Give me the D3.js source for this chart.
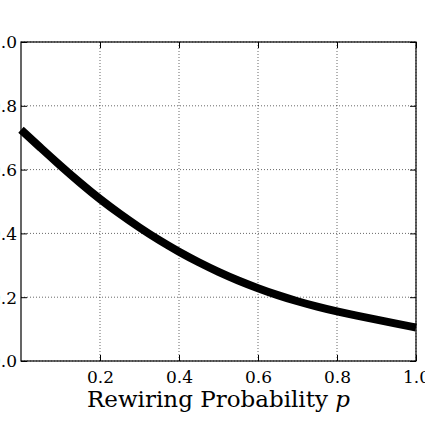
<!DOCTYPE html>
<html><head><meta charset="utf-8">
<script src="https://cdn.jsdelivr.net/npm/d3@7"></script>
<style>body{margin:0;background:#fff}</style></head>
<body><svg id="c" width="425" height="425"></svg>
<script>
const pValues=[0,0.05,0.1,0.15,0.2,0.25,0.3,0.35,0.4,0.45,0.5,0.55,0.6,0.65,0.7,0.75,0.8,0.85,0.9,0.95,1.0];
const yValues=[0.725,0.668,0.612,0.558,0.507,0.461,0.418,0.378,0.342,0.309,0.279,0.252,0.228,0.206,0.187,0.170,0.155,0.142,0.13,0.117,0.105];
const xTicks=[0.2,0.4,0.6,0.8,1.0];
const yTicks=[0.0,0.2,0.4,0.6,0.8,1.0];
const svg=d3.select("#c");
const L=21,R=416,T=42,B=361;
const x=d3.scaleLinear().domain([0,1]).range([L,R]);
const y=d3.scaleLinear().domain([0,1]).range([B,T]);
const g=svg.append("g");
g.selectAll(".gx").data(xTicks).join("line").attr("x1",d=>x(d)).attr("x2",d=>x(d)).attr("y1",T).attr("y2",B).attr("stroke","#000").attr("stroke-width",0.6).attr("stroke-dasharray","1,2");
g.selectAll(".gy").data(yTicks).join("line").attr("y1",d=>y(d)).attr("y2",d=>y(d)).attr("x1",L).attr("x2",R).attr("stroke","#000").attr("stroke-width",0.6).attr("stroke-dasharray","1,2");
const line=d3.line().x((d,i)=>x(pValues[i])).y(d=>y(d)).curve(d3.curveBasis);
svg.append("path").datum(yValues).attr("d",line).attr("fill","none").attr("stroke","#000").attr("stroke-width",8);
svg.append("rect").attr("x",L).attr("y",T).attr("width",R-L).attr("height",B-T).attr("fill","none").attr("stroke","#000").attr("stroke-width",1.2);
const xa=svg.append("g").attr("transform",`translate(0,${B})`).call(d3.axisBottom(x).tickValues(xTicks).tickFormat(d3.format(".1f")).tickSize(-6).tickPadding(10));
const ya=svg.append("g").attr("transform",`translate(${L},0)`).call(d3.axisLeft(y).tickValues(yTicks).tickFormat(d3.format(".1f")).tickSize(-6).tickPadding(4));
const yr=svg.append("g").attr("transform",`translate(${R},0)`).call(d3.axisRight(y).tickValues(yTicks).tickFormat("").tickSize(-6));
const xt=svg.append("g").attr("transform",`translate(0,${T})`).call(d3.axisTop(x).tickValues(xTicks).tickFormat("").tickSize(-6));
[xa,ya,yr,xt].forEach(a=>{a.select(".domain").remove();a.selectAll("text").attr("font-family","DejaVu Serif").attr("font-size",17).attr("fill","#000");});
ya.selectAll("text").attr("dy","0.35em");
svg.append("text").attr("x",(L+R)/2).attr("y",407).attr("text-anchor","middle").attr("font-family","DejaVu Serif").attr("font-size",23).text("Rewiring Probability ").append("tspan").attr("font-style","italic").text("p");
</script></body></html>
